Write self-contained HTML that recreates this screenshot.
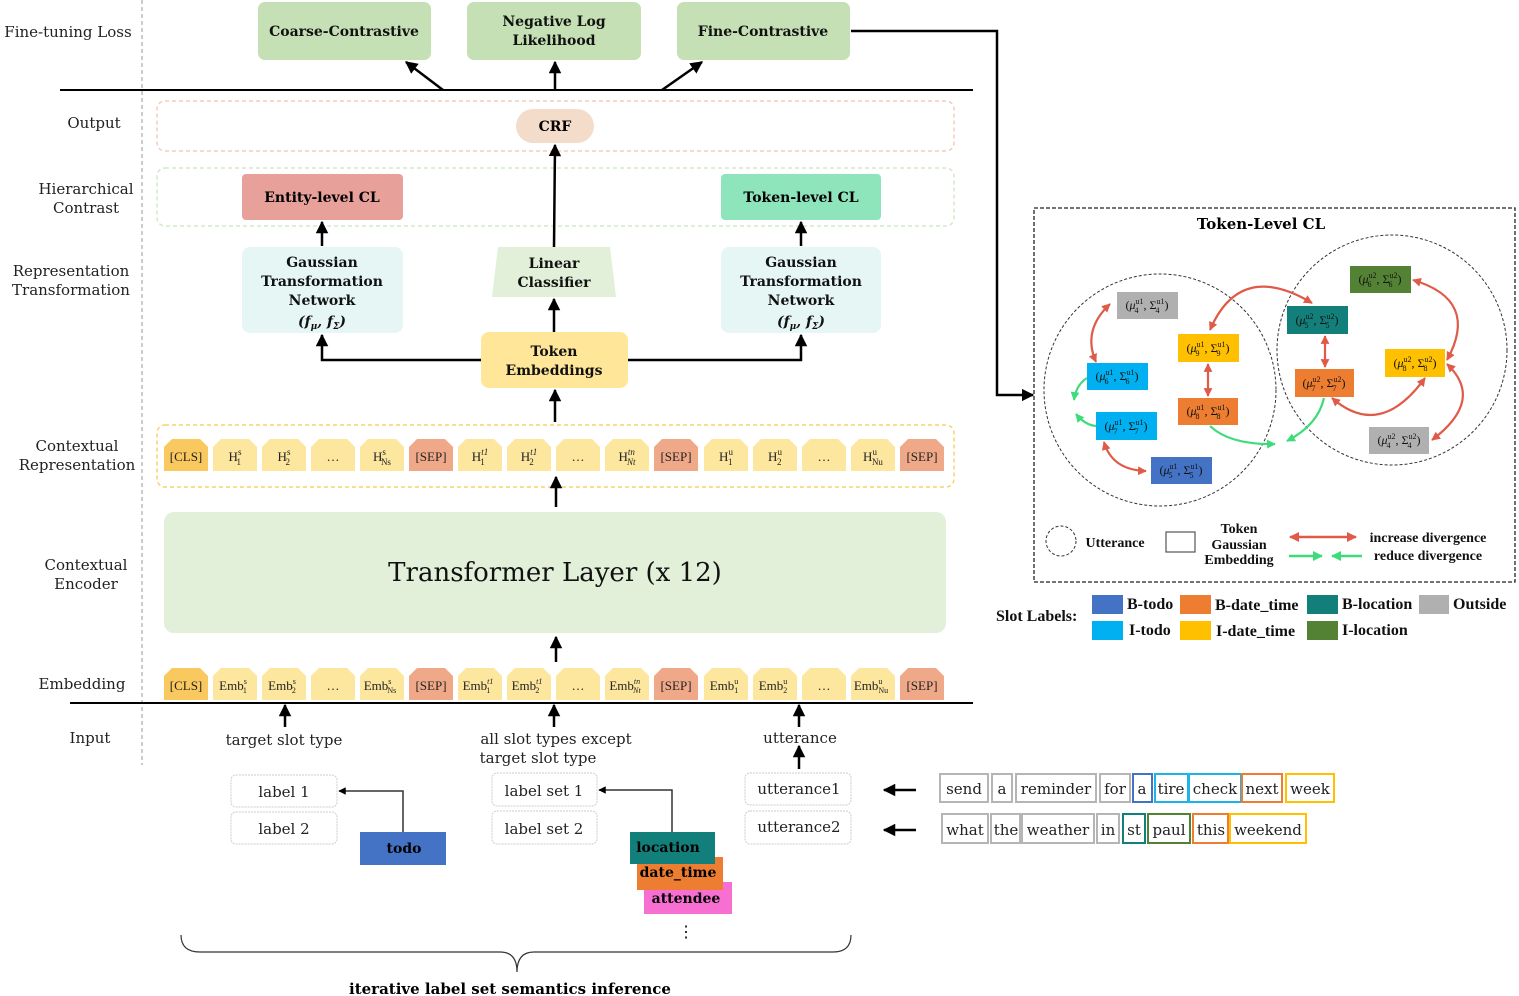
<!DOCTYPE html>
<html><head><meta charset="utf-8"><style>
html,body{margin:0;padding:0;background:#fff;}
svg{display:block;font-family:"DejaVu Serif","Liberation Serif",serif;}
.b{font-weight:bold;}
.t{font-family:"Liberation Serif",serif;}
</style></head><body>
<svg width="1519" height="996" viewBox="0 0 1519 996" xmlns="http://www.w3.org/2000/svg">
<defs>
<marker id="ak" viewBox="0 0 10 10" refX="9" refY="5" markerWidth="5" markerHeight="5" orient="auto-start-reverse"><path d="M0,0L10,5L0,10z" fill="#000"/></marker>
<marker id="ar" viewBox="0 0 10 10" refX="9" refY="5" markerWidth="4" markerHeight="4" orient="auto-start-reverse"><path d="M0,0L10,5L0,10z" fill="#e05a48"/></marker>
<marker id="ag" viewBox="0 0 10 10" refX="9" refY="5" markerWidth="4" markerHeight="4" orient="auto-start-reverse"><path d="M0,0L10,5L0,10z" fill="#3ddc7a"/></marker>
</defs>
<g font-size="15" fill="#222" text-anchor="middle">
<text x="68" y="37">Fine-tuning Loss</text>
<text x="94" y="128">Output</text>
<text x="86" y="194">Hierarchical</text><text x="86" y="213">Contrast</text>
<text x="71" y="276">Representation</text><text x="71" y="295">Transformation</text>
<text x="77" y="451">Contextual</text><text x="77" y="470">Representation</text>
<text x="86" y="570">Contextual</text><text x="86" y="589">Encoder</text>
<text x="82" y="689">Embedding</text>
<text x="90" y="743">Input</text>
</g>
<line x1="142" y1="0" x2="142" y2="765" stroke="#999" stroke-dasharray="4,3"/>
<line x1="60" y1="90" x2="973" y2="90" stroke="#000" stroke-width="2"/>
<line x1="70" y1="703" x2="973" y2="703" stroke="#000" stroke-width="2"/>
<rect x="258" y="2" width="173" height="58" rx="7" fill="#c5e0b4"/>
<rect x="467" y="2" width="174" height="58" rx="7" fill="#c5e0b4"/>
<rect x="677" y="2" width="173" height="58" rx="7" fill="#c5e0b4"/>
<g font-size="14" class="b" text-anchor="middle" fill="#111">
<text x="344" y="36">Coarse-Contrastive</text>
<text x="554" y="26">Negative Log</text><text x="554" y="45">Likelihood</text>
<text x="763" y="36">Fine-Contrastive</text>
</g>
<g stroke="#000" stroke-width="2.5" fill="none" marker-end="url(#ak)">
<line x1="443" y1="90" x2="406" y2="62"/>
<line x1="555" y1="90" x2="555" y2="62"/>
<line x1="662" y1="90" x2="702" y2="62"/>
</g>
<polyline points="851,31 997,31 997,395 1033,395" fill="none" stroke="#000" stroke-width="2.5" marker-end="url(#ak)"/>
<rect x="157" y="101" width="797" height="50" rx="8" fill="none" stroke="#f3cdbd" stroke-dasharray="4,3" stroke-width="1.5"/>
<rect x="157" y="168" width="797" height="58" rx="8" fill="none" stroke="#d3e8cb" stroke-dasharray="4,3" stroke-width="1.5"/>
<rect x="157" y="425" width="797" height="62" rx="8" fill="none" stroke="#f8d46a" stroke-dasharray="4,3" stroke-width="1.5"/>
<rect x="516" y="109" width="78" height="34" rx="17" fill="#f4dccb"/>
<text x="555" y="131" font-size="14" class="b" text-anchor="middle">CRF</text>
<rect x="242" y="174" width="161" height="46" rx="4" fill="#e8a09a"/>
<rect x="721" y="174" width="160" height="46" rx="4" fill="#8ee4bb"/>
<text x="322" y="202" font-size="14" class="b" text-anchor="middle">Entity-level CL</text>
<text x="801" y="202" font-size="14" class="b" text-anchor="middle">Token-level CL</text>
<rect x="242" y="247" width="161" height="86" rx="8" fill="#e6f6f4"/>
<rect x="721" y="247" width="160" height="86" rx="8" fill="#e6f6f4"/>
<polygon points="498,247 610,247 616,297 492,297" fill="#e2efd9"/>
<rect x="481" y="332" width="147" height="56" rx="8" fill="#ffe699"/>
<g font-size="14" class="b" text-anchor="middle" fill="#111">
<text x="322" y="267">Gaussian</text><text x="322" y="286">Transformation</text><text x="322" y="305">Network</text>
<text x="322" y="326" font-style="italic">(f<tspan font-size="9" dy="3">μ</tspan><tspan dy="-3">, f</tspan><tspan font-size="9" dy="3">Σ</tspan><tspan dy="-3">)</tspan></text>
<text x="801" y="267">Gaussian</text><text x="801" y="286">Transformation</text><text x="801" y="305">Network</text>
<text x="801" y="326" font-style="italic">(f<tspan font-size="9" dy="3">μ</tspan><tspan dy="-3">, f</tspan><tspan font-size="9" dy="3">Σ</tspan><tspan dy="-3">)</tspan></text>
<text x="554" y="268">Linear</text><text x="554" y="287">Classifier</text>
<text x="554" y="356">Token</text><text x="554" y="375">Embeddings</text>
</g>
<g stroke="#000" stroke-width="2.5" fill="none" marker-end="url(#ak)">
<line x1="322" y1="246" x2="322" y2="222"/>
<line x1="801" y1="246" x2="801" y2="222"/>
<line x1="554" y1="247" x2="555" y2="145"/>
<line x1="554" y1="332" x2="554" y2="299"/>
<polyline points="481,360 322,360 322,335"/>
<polyline points="628,360 801,360 801,335"/>
<line x1="555" y1="422" x2="555" y2="390"/>
<line x1="556" y1="507" x2="556" y2="477"/>
<line x1="556" y1="662" x2="556" y2="637"/>
<line x1="285" y1="727" x2="285" y2="705"/>
<line x1="554" y1="727" x2="554" y2="705"/>
<line x1="799" y1="727" x2="799" y2="705"/>
<line x1="799" y1="769" x2="799" y2="746"/>
</g>
<rect x="164" y="512" width="782" height="121" rx="10" fill="#e2efd9"/>
<text x="555" y="581" font-size="26" text-anchor="middle" fill="#111">Transformer Layer (x 12)</text>
<g class="t" font-size="13" text-anchor="middle" fill="#222">
<g transform="translate(164,439)"><polygon points="0,8 8,0 36,0 44,8 44,32 0,32" fill="#f9c85f"/><text x="22" y="22">[CLS]</text></g>
<g transform="translate(213,439)"><polygon points="0,8 8,0 36,0 44,8 44,32 0,32" fill="#fde69e"/><text x="22" y="22">H<tspan font-size="9" dy="-6">s</tspan><tspan font-size="9" dx="-5" dy="10">1</tspan></text></g>
<g transform="translate(262,439)"><polygon points="0,8 8,0 36,0 44,8 44,32 0,32" fill="#fde69e"/><text x="22" y="22">H<tspan font-size="9" dy="-6">s</tspan><tspan font-size="9" dx="-5" dy="10">2</tspan></text></g>
<g transform="translate(311,439)"><polygon points="0,8 8,0 36,0 44,8 44,32 0,32" fill="#fde69e"/><text x="22" y="22">…</text></g>
<g transform="translate(360,439)"><polygon points="0,8 8,0 36,0 44,8 44,32 0,32" fill="#fde69e"/><text x="22" y="22">H<tspan font-size="9" dy="-6">s</tspan><tspan font-size="9" dx="-5" dy="10">Ns</tspan></text></g>
<g transform="translate(409,439)"><polygon points="0,8 8,0 36,0 44,8 44,32 0,32" fill="#f0a988"/><text x="22" y="22">[SEP]</text></g>
<g transform="translate(458,439)"><polygon points="0,8 8,0 36,0 44,8 44,32 0,32" fill="#fde69e"/><text x="22" y="22">H<tspan font-size="9" dy="-6" font-style="italic">t1</tspan><tspan font-size="9" dx="-8" dy="10">1</tspan></text></g>
<g transform="translate(507,439)"><polygon points="0,8 8,0 36,0 44,8 44,32 0,32" fill="#fde69e"/><text x="22" y="22">H<tspan font-size="9" dy="-6" font-style="italic">t1</tspan><tspan font-size="9" dx="-8" dy="10">2</tspan></text></g>
<g transform="translate(556,439)"><polygon points="0,8 8,0 36,0 44,8 44,32 0,32" fill="#fde69e"/><text x="22" y="22">…</text></g>
<g transform="translate(605,439)"><polygon points="0,8 8,0 36,0 44,8 44,32 0,32" fill="#fde69e"/><text x="22" y="22">H<tspan font-size="9" dy="-6" font-style="italic">tn</tspan><tspan font-size="9" dx="-8" dy="10" font-style="italic">Nt</tspan></text></g>
<g transform="translate(654,439)"><polygon points="0,8 8,0 36,0 44,8 44,32 0,32" fill="#f0a988"/><text x="22" y="22">[SEP]</text></g>
<g transform="translate(704,439)"><polygon points="0,8 8,0 36,0 44,8 44,32 0,32" fill="#fde69e"/><text x="22" y="22">H<tspan font-size="9" dy="-6">u</tspan><tspan font-size="9" dx="-5" dy="10">1</tspan></text></g>
<g transform="translate(753,439)"><polygon points="0,8 8,0 36,0 44,8 44,32 0,32" fill="#fde69e"/><text x="22" y="22">H<tspan font-size="9" dy="-6">u</tspan><tspan font-size="9" dx="-5" dy="10">2</tspan></text></g>
<g transform="translate(802,439)"><polygon points="0,8 8,0 36,0 44,8 44,32 0,32" fill="#fde69e"/><text x="22" y="22">…</text></g>
<g transform="translate(851,439)"><polygon points="0,8 8,0 36,0 44,8 44,32 0,32" fill="#fde69e"/><text x="22" y="22">H<tspan font-size="9" dy="-6">u</tspan><tspan font-size="9" dx="-5" dy="10">Nu</tspan></text></g>
<g transform="translate(900,439)"><polygon points="0,8 8,0 36,0 44,8 44,32 0,32" fill="#f0a988"/><text x="22" y="22">[SEP]</text></g>
</g>
<g class="t" font-size="13" text-anchor="middle" fill="#222">
<g transform="translate(164,668)"><polygon points="0,8 8,0 36,0 44,8 44,32 0,32" fill="#f9c85f"/><text x="22" y="22">[CLS]</text></g>
<g transform="translate(213,668)"><polygon points="0,8 8,0 36,0 44,8 44,32 0,32" fill="#fde69e"/><text x="20" y="22">Emb<tspan font-size="8" dy="-6">s</tspan><tspan font-size="8" dx="-4" dy="9">1</tspan></text></g>
<g transform="translate(262,668)"><polygon points="0,8 8,0 36,0 44,8 44,32 0,32" fill="#fde69e"/><text x="20" y="22">Emb<tspan font-size="8" dy="-6">s</tspan><tspan font-size="8" dx="-4" dy="9">2</tspan></text></g>
<g transform="translate(311,668)"><polygon points="0,8 8,0 36,0 44,8 44,32 0,32" fill="#fde69e"/><text x="22" y="22">…</text></g>
<g transform="translate(360,668)"><polygon points="0,8 8,0 36,0 44,8 44,32 0,32" fill="#fde69e"/><text x="20" y="22">Emb<tspan font-size="8" dy="-6">s</tspan><tspan font-size="8" dx="-4" dy="9">Ns</tspan></text></g>
<g transform="translate(409,668)"><polygon points="0,8 8,0 36,0 44,8 44,32 0,32" fill="#f0a988"/><text x="22" y="22">[SEP]</text></g>
<g transform="translate(458,668)"><polygon points="0,8 8,0 36,0 44,8 44,32 0,32" fill="#fde69e"/><text x="20" y="22">Emb<tspan font-size="8" dy="-6" font-style="italic">t1</tspan><tspan font-size="8" dx="-7" dy="9">1</tspan></text></g>
<g transform="translate(507,668)"><polygon points="0,8 8,0 36,0 44,8 44,32 0,32" fill="#fde69e"/><text x="20" y="22">Emb<tspan font-size="8" dy="-6" font-style="italic">t1</tspan><tspan font-size="8" dx="-7" dy="9">2</tspan></text></g>
<g transform="translate(556,668)"><polygon points="0,8 8,0 36,0 44,8 44,32 0,32" fill="#fde69e"/><text x="22" y="22">…</text></g>
<g transform="translate(605,668)"><polygon points="0,8 8,0 36,0 44,8 44,32 0,32" fill="#fde69e"/><text x="20" y="22">Emb<tspan font-size="8" dy="-6" font-style="italic">tn</tspan><tspan font-size="8" dx="-7" dy="9" font-style="italic">Nt</tspan></text></g>
<g transform="translate(654,668)"><polygon points="0,8 8,0 36,0 44,8 44,32 0,32" fill="#f0a988"/><text x="22" y="22">[SEP]</text></g>
<g transform="translate(704,668)"><polygon points="0,8 8,0 36,0 44,8 44,32 0,32" fill="#fde69e"/><text x="20" y="22">Emb<tspan font-size="8" dy="-6">u</tspan><tspan font-size="8" dx="-4" dy="9">1</tspan></text></g>
<g transform="translate(753,668)"><polygon points="0,8 8,0 36,0 44,8 44,32 0,32" fill="#fde69e"/><text x="20" y="22">Emb<tspan font-size="8" dy="-6">u</tspan><tspan font-size="8" dx="-4" dy="9">2</tspan></text></g>
<g transform="translate(802,668)"><polygon points="0,8 8,0 36,0 44,8 44,32 0,32" fill="#fde69e"/><text x="22" y="22">…</text></g>
<g transform="translate(851,668)"><polygon points="0,8 8,0 36,0 44,8 44,32 0,32" fill="#fde69e"/><text x="20" y="22">Emb<tspan font-size="8" dy="-6">u</tspan><tspan font-size="8" dx="-4" dy="9">Nu</tspan></text></g>
<g transform="translate(900,668)"><polygon points="0,8 8,0 36,0 44,8 44,32 0,32" fill="#f0a988"/><text x="22" y="22">[SEP]</text></g>
</g>
<g font-size="15" fill="#222" text-anchor="middle">
<text x="284" y="745">target slot type</text>
<text x="556" y="744">all slot types except</text><text x="538" y="763">target slot type</text>
<text x="800" y="743">utterance</text>
</g>
<g fill="#fff" stroke="#ccc" stroke-dasharray="2,1">
<rect x="231" y="775" width="106" height="32" rx="5"/>
<rect x="231" y="812" width="106" height="32" rx="5"/>
<rect x="492" y="773" width="105" height="33" rx="5"/>
<rect x="492" y="811" width="105" height="33" rx="5"/>
<rect x="745" y="773" width="106" height="32" rx="5"/>
<rect x="745" y="811" width="106" height="33" rx="5"/>
</g>
<g font-size="15" fill="#222" text-anchor="middle">
<text x="284" y="797">label 1</text><text x="284" y="834">label 2</text>
<text x="544" y="796">label set 1</text><text x="544" y="834">label set 2</text>
<text x="799" y="794">utterance1</text><text x="799" y="832">utterance2</text>
</g>
<polyline points="403,832 403,791 339,791" fill="none" stroke="#333" stroke-width="1.5" marker-end="url(#ak)"/>
<polyline points="672,832 672,790 599,790" fill="none" stroke="#333" stroke-width="1.5" marker-end="url(#ak)"/>
<rect x="360" y="832" width="86" height="33" fill="#4472c4"/>
<text x="404" y="853" font-size="14" class="b" text-anchor="middle">todo</text>
<rect x="644" y="882" width="88" height="32" fill="#f76fd1"/>
<rect x="637" y="857" width="86" height="33" fill="#ed7d31"/>
<rect x="630" y="832" width="85" height="32" fill="#137f7a"/>
<text x="668" y="852" font-size="14" class="b" text-anchor="middle">location</text>
<text x="678" y="877" font-size="14" class="b" text-anchor="middle">date_time</text>
<text x="686" y="903" font-size="14" class="b" text-anchor="middle">attendee</text>
<text x="686" y="937" font-size="16" text-anchor="middle">⋮</text>
<path d="M181,935 Q181,952 200,952 L500,952 Q517,952 517,972 Q517,952 534,952 L833,952 Q851,952 851,935" fill="none" stroke="#333" stroke-width="1.2"/>
<text x="510" y="994" font-size="15" class="b" text-anchor="middle">iterative label set semantics inference</text>
<g stroke="#000" stroke-width="2.5" marker-end="url(#ak)">
<line x1="916" y1="790" x2="884" y2="790"/>
<line x1="916" y1="830" x2="884" y2="830"/>
</g>
<g fill="none" stroke-width="2">
<rect x="940" y="774" width="48" height="28" stroke="#b5b5b5"/><rect x="992" y="774" width="20" height="28" stroke="#b5b5b5"/><rect x="1016" y="774" width="80" height="28" stroke="#b5b5b5"/><rect x="1100" y="774" width="30" height="28" stroke="#b5b5b5"/>
<rect x="1133" y="774" width="19" height="28" stroke="#4472c4"/><rect x="1155" y="774" width="33" height="28" stroke="#1eb4ea"/><rect x="1189" y="774" width="52" height="28" stroke="#1eb4ea"/><rect x="1242" y="774" width="40" height="28" stroke="#ed7d31"/><rect x="1286" y="774" width="48" height="28" stroke="#ffc000"/>
<rect x="942" y="814" width="46" height="29" stroke="#b5b5b5"/><rect x="991" y="814" width="29" height="29" stroke="#b5b5b5"/><rect x="1022" y="814" width="72" height="29" stroke="#b5b5b5"/><rect x="1097" y="814" width="22" height="29" stroke="#b5b5b5"/>
<rect x="1123" y="814" width="22" height="29" stroke="#137f7a"/><rect x="1148" y="814" width="42" height="29" stroke="#548235"/><rect x="1193" y="814" width="35" height="29" stroke="#ed7d31"/><rect x="1230" y="814" width="76" height="29" stroke="#ffc000"/>
</g>
<g font-size="15" fill="#222" text-anchor="middle">
<text x="964" y="794">send</text><text x="1002" y="794">a</text><text x="1056" y="794">reminder</text><text x="1115" y="794">for</text><text x="1142" y="794">a</text><text x="1171" y="794">tire</text><text x="1215" y="794">check</text><text x="1262" y="794">next</text><text x="1310" y="794">week</text>
<text x="965" y="835">what</text><text x="1006" y="835">the</text><text x="1058" y="835">weather</text><text x="1108" y="835">in</text><text x="1134" y="835">st</text><text x="1169" y="835">paul</text><text x="1211" y="835">this</text><text x="1268" y="835">weekend</text>
</g>
<rect x="1034" y="208" width="481" height="374" fill="none" stroke="#222" stroke-dasharray="4,2" stroke-width="1.3"/>
<text x="1261" y="229" font-size="15" class="b" text-anchor="middle">Token-Level  CL</text>
<circle cx="1160" cy="390" r="116" fill="none" stroke="#333" stroke-dasharray="3,2"/>
<circle cx="1392" cy="350" r="115" fill="none" stroke="#333" stroke-dasharray="3,2"/>
<g stroke="#e05a48" stroke-width="2.2" fill="none" marker-end="url(#ar)" marker-start="url(#ar)">
<path d="M1096,362 Q1082,330 1110,304"/>
<path d="M1210,330 Q1240,260 1312,303"/>
<path d="M1208,364 L1208,396"/>
<path d="M1325,336 L1325,367"/>
<path d="M1104,442 Q1112,470 1146,471"/>
<path d="M1413,280 Q1480,300 1447,360"/>
<path d="M1332,398 Q1380,440 1425,378"/>
<path d="M1447,364 Q1485,400 1432,440"/>
</g>
<g stroke="#3ddc7a" stroke-width="2.2" fill="none" marker-end="url(#ag)">
<path d="M1087,378 Q1076,385 1074,400"/>
<path d="M1096,426 Q1085,425 1076,414"/>
<path d="M1210,426 Q1230,445 1275,444"/>
<path d="M1324,398 Q1318,425 1287,441"/>
</g>
<g class="t" font-size="12" fill="#111" text-anchor="middle">
<rect x="1117" y="292" width="61" height="27" fill="#b0b0b0"/>
<rect x="1087" y="363" width="61" height="27" fill="#00b0f0"/>
<rect x="1096" y="412" width="61" height="28" fill="#00b0f0"/>
<rect x="1151" y="457" width="61" height="27" fill="#4472c4"/>
<rect x="1178" y="334" width="61" height="28" fill="#ffc000"/>
<rect x="1178" y="398" width="60" height="27" fill="#ed7d31"/>
<rect x="1350" y="266" width="61" height="27" fill="#548235"/>
<rect x="1287" y="306" width="61" height="28" fill="#137f7a"/>
<rect x="1385" y="349" width="60" height="28" fill="#ffc000"/>
<rect x="1295" y="369" width="59" height="28" fill="#ed7d31"/>
<rect x="1369" y="427" width="60" height="27" fill="#b0b0b0"/>
<text x="1147" y="309">(<tspan font-style="italic">μ</tspan><tspan font-size="8" dy="-5">u1</tspan><tspan font-size="8" dx="-9" dy="9">4</tspan><tspan dx="5" dy="-4">, Σ</tspan><tspan font-size="8" dy="-5">u1</tspan><tspan font-size="8" dx="-9" dy="9">4</tspan><tspan dx="5" dy="-4">)</tspan></text>
<text x="1117" y="380">(<tspan font-style="italic">μ</tspan><tspan font-size="8" dy="-5">u1</tspan><tspan font-size="8" dx="-9" dy="9">6</tspan><tspan dx="5" dy="-4">, Σ</tspan><tspan font-size="8" dy="-5">u1</tspan><tspan font-size="8" dx="-9" dy="9">6</tspan><tspan dx="5" dy="-4">)</tspan></text>
<text x="1126" y="430">(<tspan font-style="italic">μ</tspan><tspan font-size="8" dy="-5">u1</tspan><tspan font-size="8" dx="-9" dy="9">7</tspan><tspan dx="5" dy="-4">, Σ</tspan><tspan font-size="8" dy="-5">u1</tspan><tspan font-size="8" dx="-9" dy="9">7</tspan><tspan dx="5" dy="-4">)</tspan></text>
<text x="1181" y="474">(<tspan font-style="italic">μ</tspan><tspan font-size="8" dy="-5">u1</tspan><tspan font-size="8" dx="-9" dy="9">5</tspan><tspan dx="5" dy="-4">, Σ</tspan><tspan font-size="8" dy="-5">u1</tspan><tspan font-size="8" dx="-9" dy="9">5</tspan><tspan dx="5" dy="-4">)</tspan></text>
<text x="1208" y="352">(<tspan font-style="italic">μ</tspan><tspan font-size="8" dy="-5">u1</tspan><tspan font-size="8" dx="-9" dy="9">9</tspan><tspan dx="5" dy="-4">, Σ</tspan><tspan font-size="8" dy="-5">u1</tspan><tspan font-size="8" dx="-9" dy="9">9</tspan><tspan dx="5" dy="-4">)</tspan></text>
<text x="1208" y="415">(<tspan font-style="italic">μ</tspan><tspan font-size="8" dy="-5">u1</tspan><tspan font-size="8" dx="-9" dy="9">8</tspan><tspan dx="5" dy="-4">, Σ</tspan><tspan font-size="8" dy="-5">u1</tspan><tspan font-size="8" dx="-9" dy="9">8</tspan><tspan dx="5" dy="-4">)</tspan></text>
<text x="1380" y="283">(<tspan font-style="italic">μ</tspan><tspan font-size="8" dy="-5">u2</tspan><tspan font-size="8" dx="-9" dy="9">6</tspan><tspan dx="5" dy="-4">, Σ</tspan><tspan font-size="8" dy="-5">u2</tspan><tspan font-size="8" dx="-9" dy="9">6</tspan><tspan dx="5" dy="-4">)</tspan></text>
<text x="1317" y="324">(<tspan font-style="italic">μ</tspan><tspan font-size="8" dy="-5">u2</tspan><tspan font-size="8" dx="-9" dy="9">5</tspan><tspan dx="5" dy="-4">, Σ</tspan><tspan font-size="8" dy="-5">u2</tspan><tspan font-size="8" dx="-9" dy="9">5</tspan><tspan dx="5" dy="-4">)</tspan></text>
<text x="1415" y="367">(<tspan font-style="italic">μ</tspan><tspan font-size="8" dy="-5">u2</tspan><tspan font-size="8" dx="-9" dy="9">8</tspan><tspan dx="5" dy="-4">, Σ</tspan><tspan font-size="8" dy="-5">u2</tspan><tspan font-size="8" dx="-9" dy="9">8</tspan><tspan dx="5" dy="-4">)</tspan></text>
<text x="1324" y="387">(<tspan font-style="italic">μ</tspan><tspan font-size="8" dy="-5">u2</tspan><tspan font-size="8" dx="-9" dy="9">7</tspan><tspan dx="5" dy="-4">, Σ</tspan><tspan font-size="8" dy="-5">u2</tspan><tspan font-size="8" dx="-9" dy="9">7</tspan><tspan dx="5" dy="-4">)</tspan></text>
<text x="1399" y="444">(<tspan font-style="italic">μ</tspan><tspan font-size="8" dy="-5">u2</tspan><tspan font-size="8" dx="-9" dy="9">4</tspan><tspan dx="5" dy="-4">, Σ</tspan><tspan font-size="8" dy="-5">u2</tspan><tspan font-size="8" dx="-9" dy="9">4</tspan><tspan dx="5" dy="-4">)</tspan></text>
</g>
<circle cx="1061" cy="541" r="15" fill="none" stroke="#333" stroke-dasharray="3,2"/>
<rect x="1166" y="532" width="29" height="20" fill="none" stroke="#555" stroke-width="1.2"/>
<g class="t b" font-size="14" fill="#111" text-anchor="middle">
<text x="1115" y="547">Utterance</text>
<text x="1239" y="533">Token</text><text x="1239" y="549">Gaussian</text><text x="1239" y="564">Embedding</text>
<text x="1428" y="542">increase divergence</text>
<text x="1428" y="560">reduce divergence</text>
</g>
<line x1="1290" y1="537" x2="1356" y2="537" stroke="#e05a48" stroke-width="2.5" marker-start="url(#ar)" marker-end="url(#ar)"/>
<line x1="1289" y1="556" x2="1322" y2="556" stroke="#3ddc7a" stroke-width="2.5" marker-end="url(#ag)"/>
<line x1="1362" y1="556" x2="1332" y2="556" stroke="#3ddc7a" stroke-width="2.5" marker-end="url(#ag)"/>
<g class="t b" font-size="16" fill="#111">
<text x="996" y="621">Slot Labels:</text>
<rect x="1092" y="595" width="31" height="19" fill="#4472c4"/><text x="1127" y="609">B-todo</text>
<rect x="1092" y="621" width="31" height="19" fill="#00b0f0"/><text x="1129" y="635">I-todo</text>
<rect x="1180" y="595" width="31" height="19" fill="#ed7d31"/><text x="1215" y="610">B-date_time</text>
<rect x="1180" y="621" width="31" height="19" fill="#ffc000"/><text x="1216" y="636">I-date_time</text>
<rect x="1307" y="595" width="31" height="19" fill="#137f7a"/><text x="1342" y="609">B-location</text>
<rect x="1307" y="621" width="31" height="19" fill="#548235"/><text x="1342" y="635">I-location</text>
<rect x="1419" y="595" width="30" height="19" fill="#b0b0b0"/><text x="1453" y="609">Outside</text>
</g>
</svg>
</body></html>
